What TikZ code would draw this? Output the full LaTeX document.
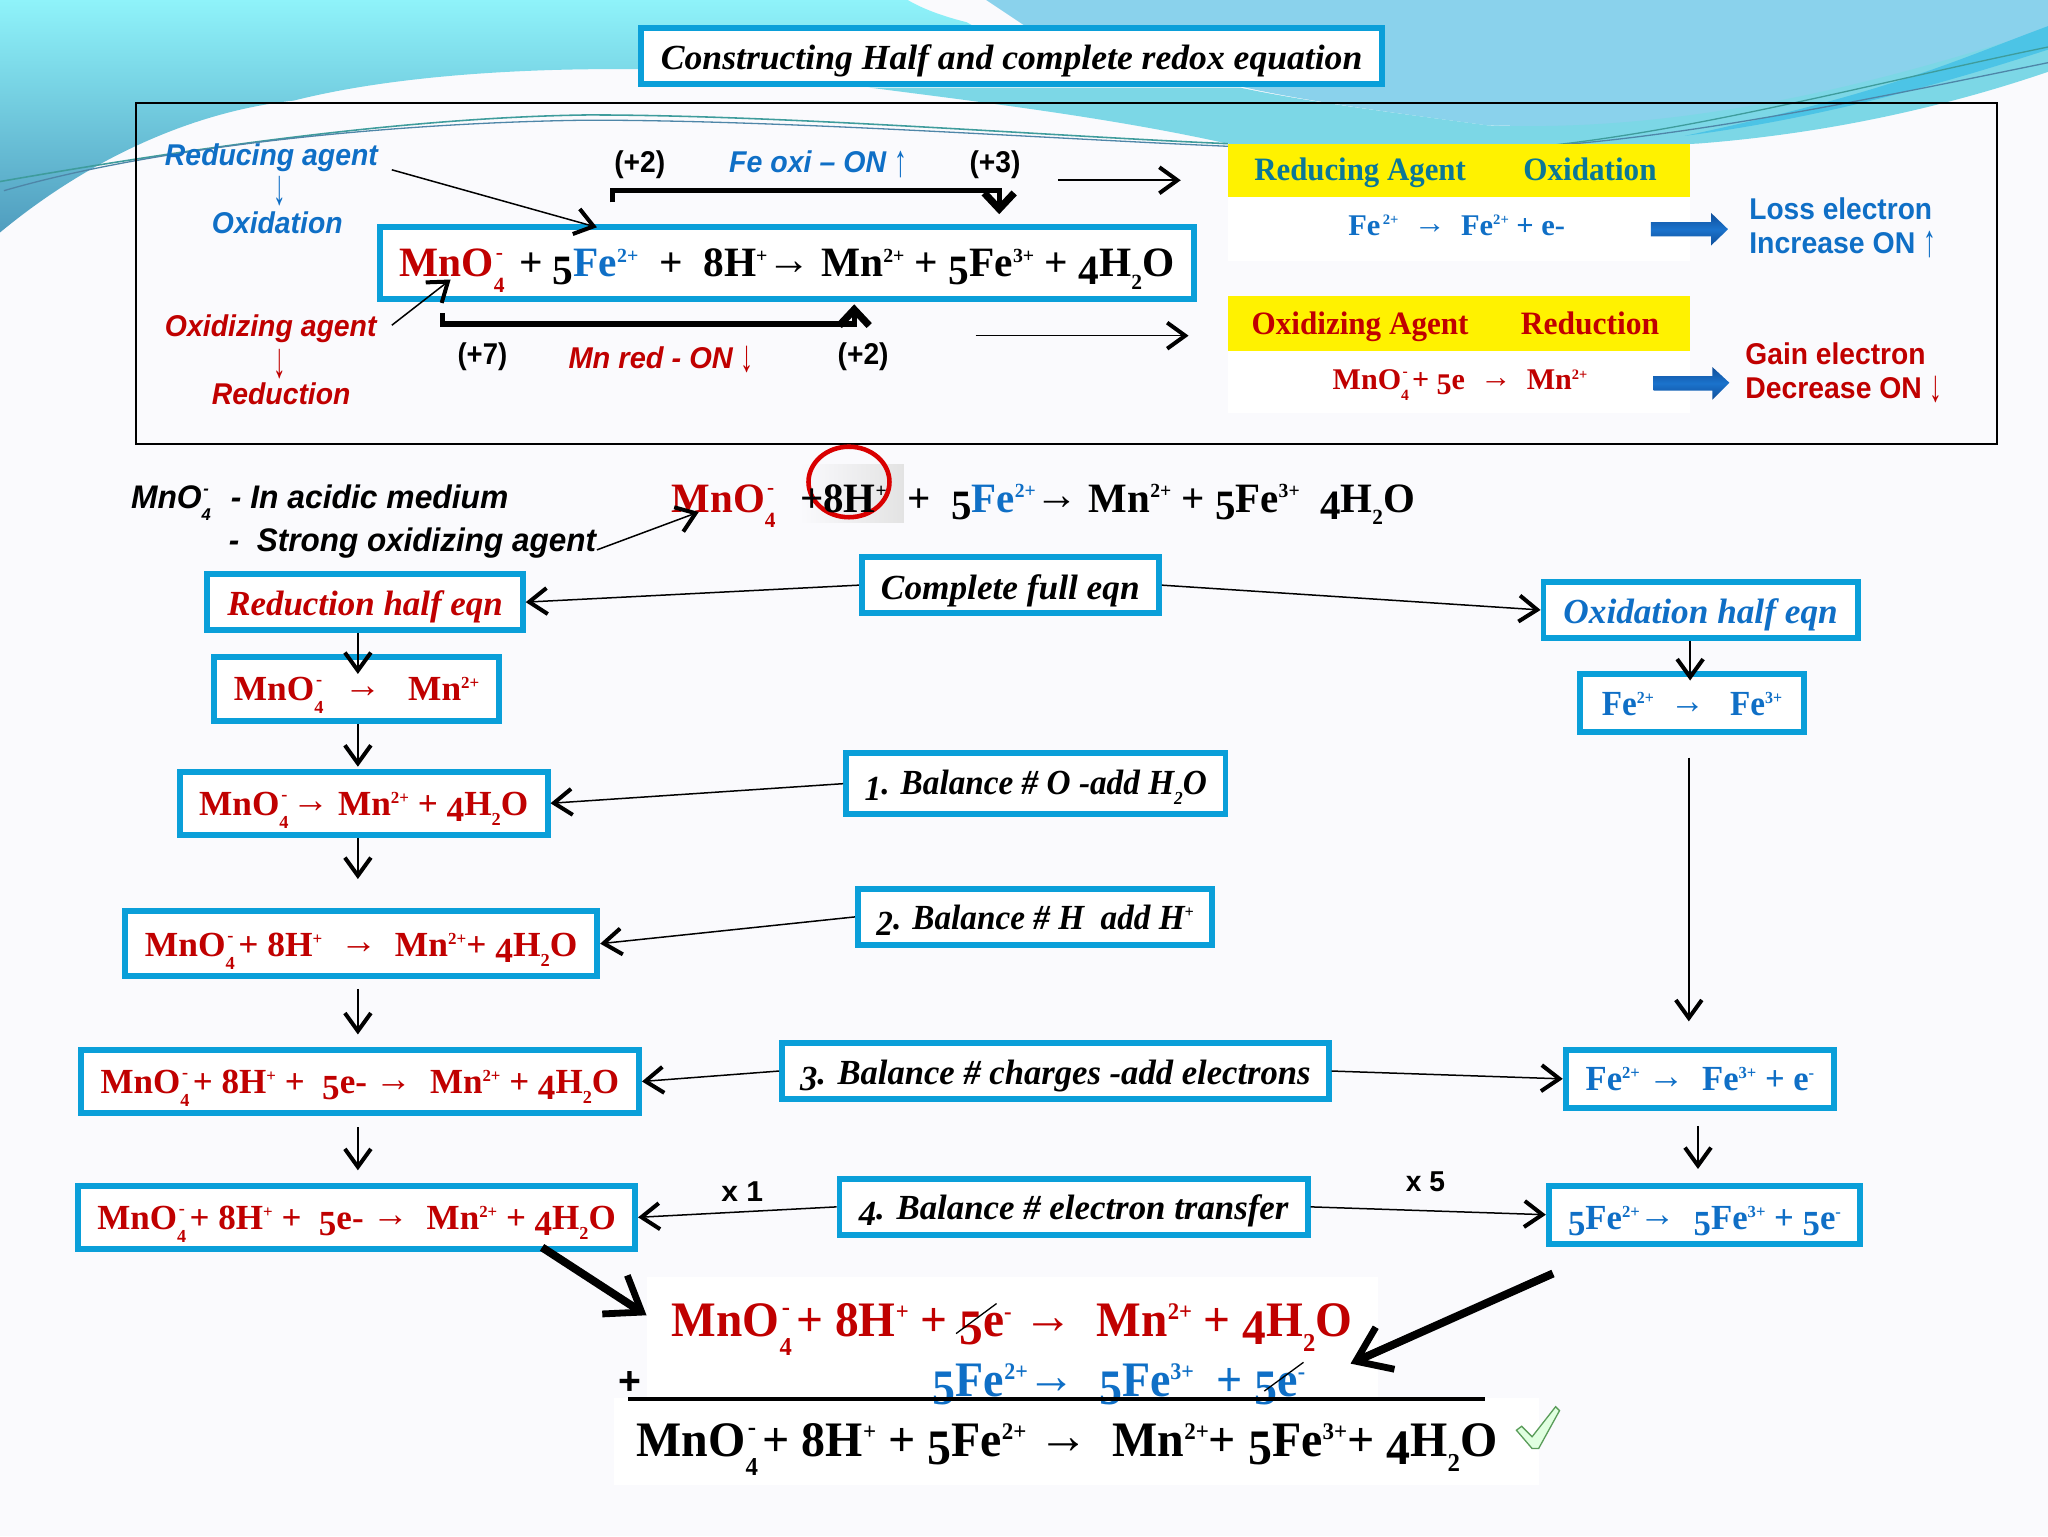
\documentclass[tikz,border=0pt]{standalone}
\usepackage{fontspec}
\usepackage{graphicx}
\setmainfont{Liberation Serif}
\setsansfont{Liberation Sans}
\usetikzlibrary{arrows.meta,calc}
\definecolor{redc}{HTML}{C00000}
\definecolor{bluec}{HTML}{0F6FC6}
\definecolor{boxc}{HTML}{0A9FD9}
\definecolor{pagec}{HTML}{FAFAFD}
\definecolor{skyc}{HTML}{8AD2EC}
\definecolor{bandc}{HTML}{7CD7E6}
\definecolor{streakc}{HTML}{4CC4E6}
\definecolor{tealdk}{HTML}{4F9CBE}
\definecolor{cyanlt}{HTML}{8FF3FA}
\definecolor{arrdk}{HTML}{0F4E9A}
\definecolor{arrlt}{HTML}{1B73CC}
\definecolor{swa}{HTML}{3E9C9C}
\definecolor{swb}{HTML}{4E86A8}
\newlength\uul \setlength\uul{0.65306pt}
\newlength\fitl
\newsavebox\fitbox
\newcommand\sz[1]{\fontsize{#1\uul}{#1\uul}\selectfont}
\newcommand\fitw[2]{\sbox\fitbox{#2}\setlength\fitl{\wd\fitbox}\pgfmathsetmacro\fitr{#1*0.65306/\fitl}\scalebox{\fitr}[1]{\usebox\fitbox}}
\newcommand\osn[1]{\raisebox{-.17em}{#1}}
\newcommand\spr[1]{\raisebox{.34em}{\scalebox{.48}{#1}}}
\newcommand\sbr[1]{\raisebox{-.3em}{\scalebox{.52}{#1}}}
\newcommand\stk[2]{\makebox[.36em][l]{\raisebox{-.38em}{\scalebox{.52}{#1}}}\kern-.36em\makebox[.36em][l]{\kern.05em\raisebox{.42em}{\scalebox{.52}{#2}}}}
\newcommand\MNO{MnO\stk{4}{-}}
\newcommand\HHO{\osn{4}H\sbr{2}O}
\newcommand\arrw{\raisebox{.06em}{\scalebox{1.05}{→}}}
\newcommand\vup[1]{{\mdseries\upshape\raisebox{-.12em}{\scalebox{.9}[1.5]{#1}}}}
\tikzset{
  bx/.style={draw=boxc,line width=2.94pt,fill=white,inner sep=0pt,align=center},
  tn/.style={anchor=base west,inner sep=0pt},
  arr/.style={draw=black,line width=.75pt,-{Straight Barb[length=9pt,width=13pt,line width=2pt]}},
  brk/.style={draw=black,line width=2.6pt,-{Straight Barb[length=8pt,width=15pt,line width=3.6pt]}},
  bigarr/.style={draw=black,line width=4pt,-{Straight Barb[length=16pt,width=23pt,line width=3.4pt]}},
  blk/.style={top color=arrdk,bottom color=arrdk,middle color=arrlt}
}
\newcommand\tx[6]{\node[tn] (#1) at (#2,#4) {#5\fitw{\the\numexpr#3-#2\relax}{#6}};}
\newcommand\bxn[9]{%
  \pgfmathsetmacro\bxCX{(#2+#4)/2}\pgfmathsetmacro\bxCY{(#3+#5)/2}%
  \pgfmathsetmacro\bxW{(#4-#2-3.5)*0.65306}\pgfmathsetmacro\bxH{(#5-#3-3.5)*0.65306}%
  \pgfmathsetmacro\bxT{(#6-(#3+#5)/2)*2*0.65306}%
  \node[bx,minimum width=\bxW pt,minimum height=\bxH pt,text height=\bxT pt,text depth=0pt] (#1) at (\bxCX,\bxCY) {#8\fitw{#7}{#9}};}
\begin{document}
\begin{tikzpicture}[x=0.65306pt,y=-0.65306pt]
\useasboundingbox (0,0) rectangle (1568,1176);
\fill[pagec] (0,0) rectangle (1568,1176);
% background swooshes
\begin{scope}
\clip (0,178) .. controls (70,120) and (150,85) .. (225,77) .. controls (300,58) and (400,52) .. (489,53)
  -- (800,50) -- (740,17) .. controls (720,12) and (705,6) .. (695,0) -- (0,0) -- cycle;
\shade[shading angle=205,top color=cyanlt,bottom color=tealdk] (0,0) rectangle (800,180);
\end{scope}
\fill[skyc] (755,0) -- (1568,0) -- (1568,40) .. controls (1450,80) and (1350,100) .. (1139,96) .. controls (1080,88) and (1000,78) .. (949,66) -- (785,20) -- cycle;
\fill[bandc] (665,67) -- (949,67) .. controls (1000,78) and (1080,88) .. (1139,96) .. controls (1300,102) and (1450,60) .. (1568,22) -- (1568,55) .. controls (1480,85) and (1390,103) .. (1299,110) .. controls (1180,114) and (1040,116) .. (940,110) .. controls (850,90) and (750,78) .. (665,67) -- cycle;
\fill[streakc] (1568,20) .. controls (1500,45) and (1450,70) .. (1290,104) .. controls (1400,90) and (1500,60) .. (1568,38) -- cycle;
\draw[line width=1.2\uul,swa] (0,139) .. controls (120,118) and (300,90) .. (450,88) .. controls (600,88) and (800,104) .. (940,110);
\draw[line width=1\uul,swb] (3,146) .. controls (120,112) and (300,94) .. (450,92) .. controls (600,92) and (800,106) .. (940,112);
\draw[line width=1\uul,swa] (1180,112) .. controls (1300,100) and (1450,60) .. (1568,36);
\draw[line width=1\uul,swb] (1180,112) .. controls (1300,104) and (1450,72) .. (1568,48);
% panels
\fill[white] (940,151) rectangle (1294,200);
\fill[white] (940,269) rectangle (1294,316);
\fill[white] (495,978) rectangle (1055,1070);
\fill[white] (470,1070) rectangle (1178,1137);
% title
\bxn{title}{489}{20}{1060}{66}{53}{537}{\sz{27}\bfseries\itshape}{Constructing Half and complete redox equation}
% outer frame
\node[draw=black,line width=1pt,inner sep=0pt,minimum width=1425\uul,minimum height=261\uul] (frame) at (816.5,209.5) {};
% left labels top panel
\tx{ragent}{126}{289}{127}{\sffamily\bfseries\itshape\sz{23}\color{bluec}}{Reducing agent}
\node[inner sep=0pt,font=\sffamily\sz{24}\color{bluec}] (rarr) at (214,146) {\scalebox{.8}[1.6]{↓}};
\tx{roxi}{162}{262}{179}{\sffamily\bfseries\itshape\sz{23}\color{bluec}}{Oxidation}
\tx{oagent}{126}{288}{258}{\sffamily\bfseries\itshape\sz{23}\color{redc}}{Oxidizing agent}
\node[inner sep=0pt,font=\sffamily\sz{24}\color{redc}] (oarr) at (214,279) {\scalebox{.8}[1.6]{↓}};
\tx{ored}{162}{268}{310}{\sffamily\bfseries\itshape\sz{23}\color{redc}}{Reduction}
% oxidation numbers
\tx{na}{470}{509}{132}{\sffamily\bfseries\sz{23}}{(+2)}
\tx{nb}{558}{694}{132}{\sffamily\bfseries\itshape\sz{23}\color{bluec}}{Fe oxi – ON \vup{↑}}
\tx{nc}{742}{781}{132}{\sffamily\bfseries\sz{23}}{(+3)}
\tx{nd}{350}{388}{279}{\sffamily\bfseries\sz{23}}{(+7)}
\tx{ne}{435}{577}{282}{\sffamily\bfseries\itshape\sz{23}\color{redc}}{Mn red - ON \vup{↓}}
\tx{nf}{641}{680}{279}{\sffamily\bfseries\sz{23}}{(+2)}
% main equation
\bxn{main}{289}{172}{916}{231}{212}{593}{\sz{32}\bfseries}{\textcolor{redc}{\MNO} + \osn{5}\textcolor{bluec}{Fe\spr{2+}}\ \ +\ \ 8H\spr{+}\arrw\ Mn\spr{2+} + \osn{5}Fe\spr{3+}\ + \HHO}
% yellow
\node[fill=yellow,inner sep=0pt,minimum width=354\uul,minimum height=41\uul] (yb1) at (1117,130.5) {};
\node[fill=yellow,inner sep=0pt,minimum width=354\uul,minimum height=42\uul] (yb2) at (1117,248) {};
\tx{ya}{960}{1122}{138}{\sz{25}\bfseries\color{bluec!85!green!90!black}}{Reducing Agent}
\tx{yb}{1166}{1268}{138}{\sz{25}\bfseries\color{bluec!85!green!90!black}}{Oxidation}
\tx{yc}{958}{1124}{256}{\sz{25}\bfseries\color{redc}}{Oxidizing Agent}
\tx{yd}{1164}{1270}{256}{\sz{25}\bfseries\color{redc}}{Reduction}
\tx{ye}{1032}{1198}{180}{\sz{23}\bfseries\color{bluec}}{Fe\spr{\,2+}\ \ \arrw\ \ Fe\spr{2+}\ + e-}
\tx{yf}{1020}{1215}{298}{\sz{23}\bfseries\color{redc}}{\MNO + \osn{5}e\ \ \arrw\ \ Mn\spr{2+}}
% block arrows
\shade[blk] (1264,170) -- (1310,170) -- (1310,163) -- (1323,175.5) -- (1310,188) -- (1310,181) -- (1264,181) -- cycle;
\shade[blk] (1266,288) -- (1311,288) -- (1311,281) -- (1324,293) -- (1311,306) -- (1311,299) -- (1266,299) -- cycle;
\tx{la}{1339}{1479}{168}{\sffamily\bfseries\sz{23}\color{bluec}}{Loss electron}
\tx{lb}{1339}{1482}{194}{\sffamily\bfseries\sz{23}\color{bluec}}{Increase ON \vup{↑}}
\tx{lc}{1336}{1474}{279}{\sffamily\bfseries\sz{23}\color{redc}}{Gain electron}
\tx{ld}{1336}{1487}{305}{\sffamily\bfseries\sz{23}\color{redc}}{Decrease ON \vup{↓}}
% circled 8H
\shade[left color=pagec,right color=gray!22] (612,356) rectangle (692,400);
\draw[red!85!black,line width=3.5\uul] (650,369) ellipse [x radius=31,y radius=27];
% medium text
\tx{ma}{100}{389}{389}{\sffamily\bfseries\itshape\sz{25}}{MnO\stk{4}{-}\ \ - In acidic medium}
\tx{mb}{175}{456}{422}{\sffamily\bfseries\itshape\sz{25}}{-\ \ Strong oxidizing agent}
\tx{eqm}{514}{1083}{392}{\sz{32}\bfseries}{\textcolor{redc}{\MNO}\ \ +8H\spr{+}\ \ +\ \ \osn{5}\textcolor{bluec}{Fe\spr{2+}}\arrw\ Mn\spr{2+} + \osn{5}Fe\spr{3+}\ \ \HHO}
% left chain
\bxn{redh}{157}{438}{402}{484}{471}{211}{\sz{27}\bfseries\itshape\color{redc}}{Reduction half eqn}
\bxn{l1}{162}{501}{384}{554}{536}{188}{\sz{27}\bfseries\color{redc}}{\MNO\ \ \arrw\ \ \ Mn\spr{2+}}
\bxn{l2}{136}{589}{421}{641}{624}{252}{\sz{27}\bfseries\color{redc}}{\MNO\arrw\ Mn\spr{2+} + \HHO}
\bxn{l3}{94}{696}{459}{749}{732}{331}{\sz{27}\bfseries\color{redc}}{\MNO + 8H\spr{+}\ \ \arrw\ \ Mn\spr{2+}+ \HHO}
\bxn{l4}{60}{802}{491}{854}{837}{397}{\sz{27}\bfseries\color{redc}}{\MNO + 8H\spr{+} +\ \ \osn{5}e-\ \arrw\ \ Mn\spr{2+} + \HHO}
\bxn{l5}{58}{906}{488}{958}{941}{397}{\sz{27}\bfseries\color{redc}}{\MNO + 8H\spr{+} +\ \ \osn{5}e-\ \arrw\ \ Mn\spr{2+} + \HHO}
% center
\bxn{comp}{658}{425}{889}{471}{459}{198}{\sz{27}\bfseries\itshape}{Complete full eqn}
\bxn{b1}{646}{575}{940}{625}{608}{262}{\sz{27}\bfseries\itshape}{\osn{1}. Balance \# O -add H\sbr{2}O}
\bxn{b2}{655}{679}{930}{725}{712}{243}{\sz{27}\bfseries\itshape}{\osn{2}. Balance \# H\ \ add H\spr{+}}
\bxn{b3}{597}{797}{1019}{843}{830}{391}{\sz{27}\bfseries\itshape}{\osn{3}. Balance \# charges -add electrons}
\bxn{b4}{641}{901}{1003}{947}{934}{329}{\sz{27}\bfseries\itshape}{\osn{4}. Balance \# electron transfer}
% right
\bxn{oxh}{1180}{444}{1424}{490}{477}{210}{\sz{27}\bfseries\itshape\color{bluec}}{Oxidation half eqn}
\bxn{r1}{1208}{514}{1383}{562}{548}{138}{\sz{27}\bfseries\color{bluec}}{Fe\spr{2+}\ \ \arrw\ \ \ Fe\spr{3+}}
\bxn{r2}{1197}{802}{1406}{850}{835}{175}{\sz{27}\bfseries\color{bluec}}{Fe\spr{2+}\ \arrw\ \ Fe\spr{3+} + e\spr{-}}
\bxn{r3}{1184}{906}{1426}{954}{941}{209}{\sz{27}\bfseries\color{bluec}}{\osn{5}Fe\spr{2+}\arrw\ \ \osn{5}Fe\spr{3+} + \osn{5}e\spr{-}}
% multipliers
\tx{xa}{552}{584}{920}{\sffamily\bfseries\sz{22}}{x 1}
\tx{xb}{1076}{1106}{912}{\sffamily\bfseries\sz{22}}{x 5}
% final equations
\tx{fa}{514}{1035}{1023}{\sz{38}\bfseries\color{redc}}{\MNO + 8H\spr{+} + \osn{5}e\spr{-} \arrw\ \ Mn\spr{2+} + \HHO}
\tx{fb}{714}{999}{1069}{\sz{38}\bfseries\color{bluec}}{\osn{5}Fe\spr{2+}\arrw\ \ \osn{5}Fe\spr{3+}\ \ + \osn{5}e\spr{-}}
\tx{fc}{487}{1146}{1115}{\sz{38}\bfseries}{\MNO + 8H\spr{+} + \osn{5}Fe\spr{2+} \arrw\ \ Mn\spr{2+}+ \osn{5}Fe\spr{3+}+ \HHO}
\node[inner sep=0pt,font=\sffamily\bfseries\sz{30}] (plus) at (482,1059) {+};
\coordinate (ra) at (481,1071); \coordinate (rb) at (1137,1071);
\draw[line width=3.5\uul] (ra) -- (rb);
\coordinate (sa1) at (732,1021); \coordinate (sa2) at (763,998);
\coordinate (sb1) at (968,1065); \coordinate (sb2) at (998,1043);
\draw[line width=1\uul] (sa1) -- (sa2);
\draw[line width=1\uul] (sb1) -- (sb2);
% tick
\fill[green!12!white,draw=green!40!black!65,line width=1\uul] (1161,1095) -- (1165,1092) -- (1173,1100) -- (1191,1077) -- (1194,1080) -- (1178,1109) -- (1173,1109) -- cycle;
% connectors
\coordinate (c1a) at (300,130); \coordinate (c1b) at (457,174);
\draw[arr] (c1a) -- (c1b);
\coordinate (c2a) at (300,249); \coordinate (c2b) at (345,214);
\draw[arr] (c2a) -- (c2b);
\coordinate (t1) at (469,155); \coordinate (t2) at (765,164);
\draw[brk] (t1) -- ++(0,-9) -| (t2);
\coordinate (u1) at (339,240); \coordinate (u2) at (654,233);
\draw[brk] (u1) -- ++(0,8) -| (u2);
\coordinate (e1a) at (810,138); \coordinate (e1b) at (904,138);
\draw[arr] (e1a) -- (e1b);
\coordinate (e2a) at (747,257); \coordinate (e2b) at (910,257);
\draw[arr] (e2a) -- (e2b);
\coordinate (m1) at (457,421); \coordinate (m2) at (535,392);
\draw[arr] (m1) -- (m2);
\draw[arr] (comp.west) -- (redh.east);
\draw[arr] (comp.east) -- (oxh.west);
\draw[arr] (b1.west) -- (l2.east);
\draw[arr] (b2.west) -- (l3.east);
\draw[arr] (b3.west) -- (l4.east);
\draw[arr] (b3.east) -- (r2.west);
\draw[arr] (b4.west) -- (l5.east);
\draw[arr] (b4.east) -- (r3.west);
\coordinate (v1) at (274,516); \draw[arr] (redh.south -| v1) -- (v1);
\coordinate (v2) at (274,587); \draw[arr] (l1.south -| v2) -- (v2);
\coordinate (v3) at (274,673); \draw[arr] (l2.south -| v3) -- (v3);
\coordinate (v4a) at (274,757); \coordinate (v4) at (274,792); \draw[arr] (v4a) -- (v4);
\coordinate (v5a) at (274,863); \coordinate (v5) at (274,896); \draw[arr] (v5a) -- (v5);
\coordinate (w1) at (1294,521); \draw[arr] (oxh.south -| w1) -- (w1);
\coordinate (w2a) at (1293,580); \coordinate (w2) at (1293,782); \draw[arr] (w2a) -- (w2);
\coordinate (w3a) at (1300,862); \coordinate (w3) at (1300,895); \draw[arr] (w3a) -- (w3);
\coordinate (g1a) at (415,955); \coordinate (g1b) at (495,1007);
\draw[bigarr] (g1a) -- (g1b);
\coordinate (g2a) at (1189,975); \coordinate (g2b) at (1034,1044);
\draw[bigarr] (g2a) -- (g2b);
\end{tikzpicture}
\end{document}
